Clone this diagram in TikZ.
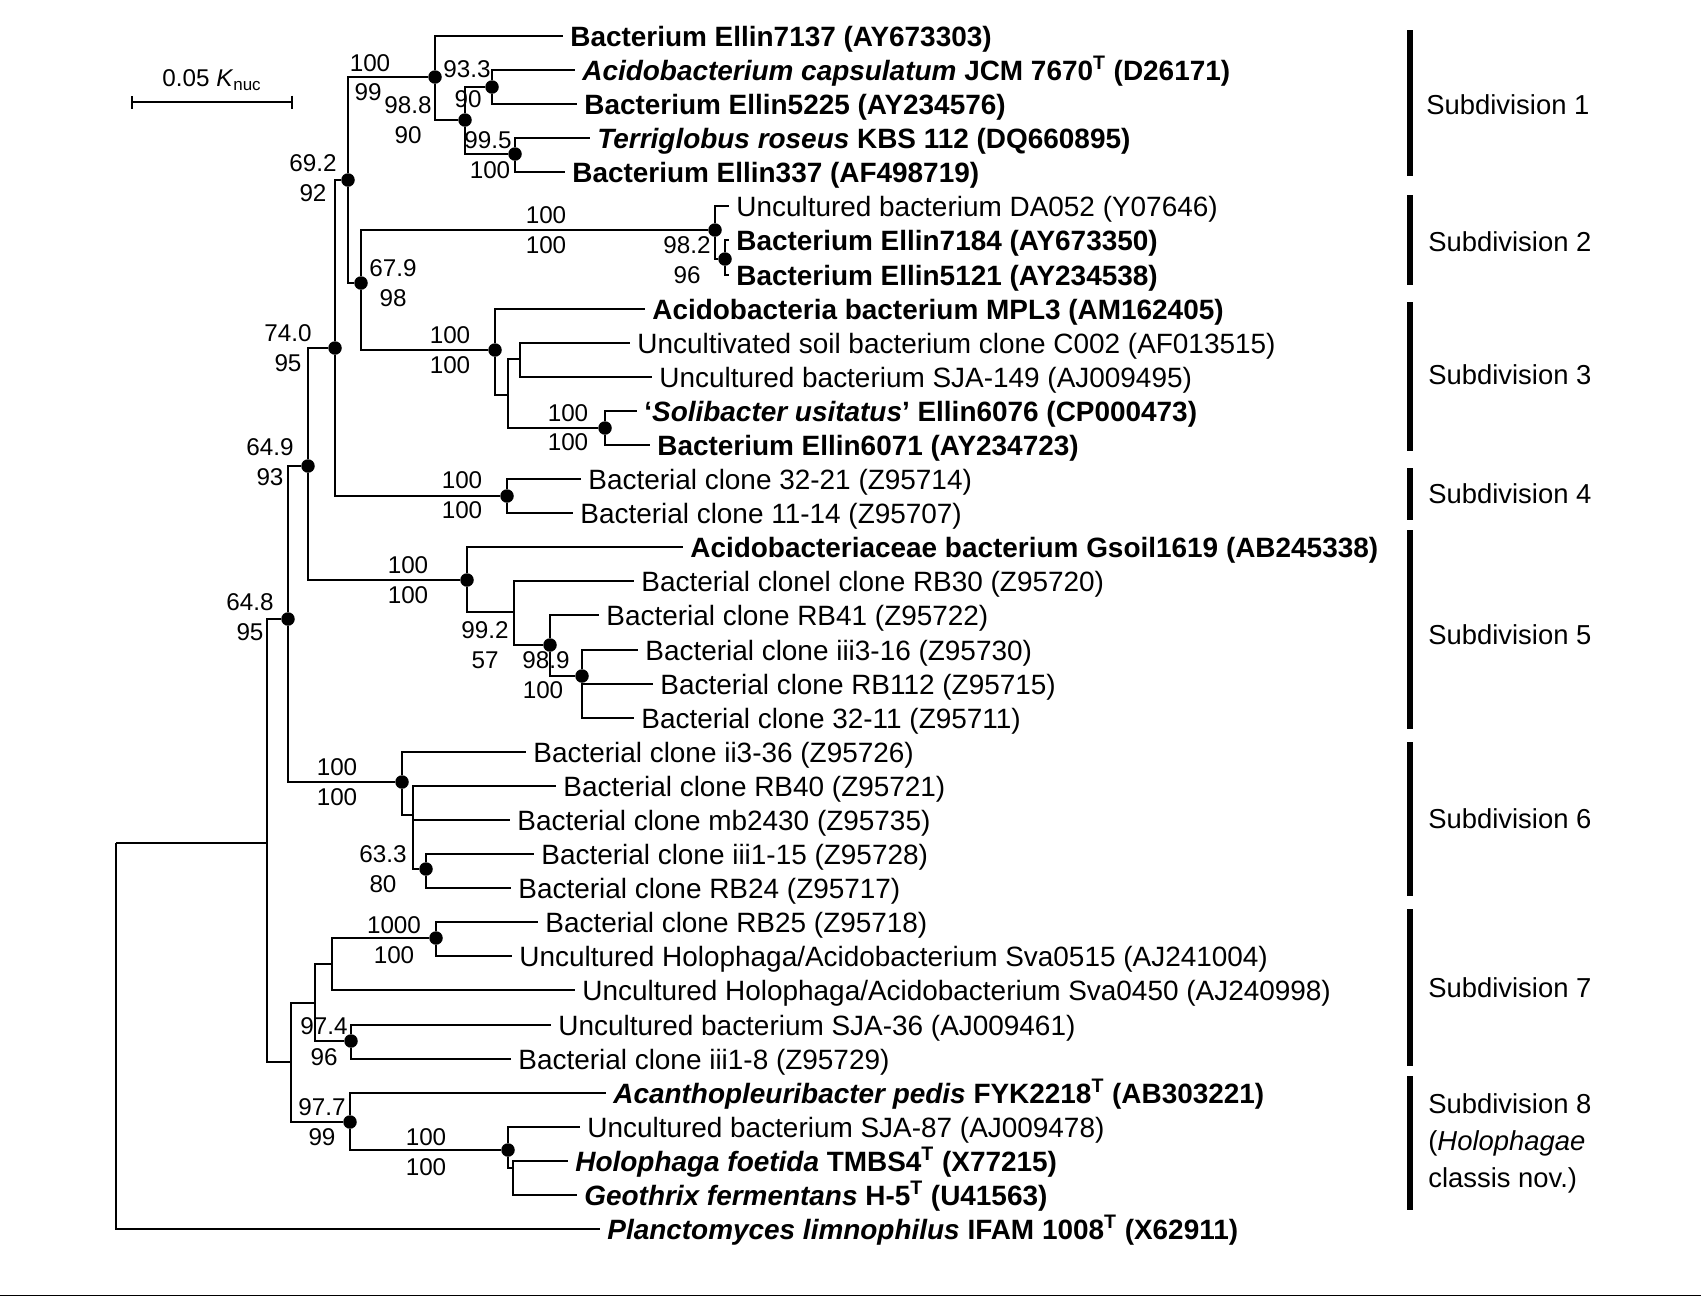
\documentclass[tikz,border=0pt]{standalone}
\usepackage{fontspec}
\setmainfont{Liberation Sans}
\usetikzlibrary{arrows.meta}

\begin{document}
\begin{tikzpicture}[
        x=0.02cm, y=-0.02cm,
        every node/.style={font=\fontsize{15.9}{18}\selectfont},
        branch/.style={line width=1.05pt},
        leaf/.style={anchor=west, inner xsep=4pt, inner ysep=0pt, text height=12.3pt, text depth=0pt},
        dot/.style={circle, fill=black, inner sep=0pt, minimum size=0.27cm},
        bs/.style={font=\fontsize{13.8}{15}\selectfont, inner sep=0pt},
        bar/.style={line width=3.3pt},
        sub/.style={anchor=west, inner sep=0pt, align=left, font=\fontsize{15.6}{18}\selectfont},
    ]
    \useasboundingbox (0,0) rectangle (1701,1296);

    % ── Scale bar ──
    \coordinate (sbl) at (131,102);
    \coordinate (sbr) at (293,102);
    \draw[branch, {Bar[width=0.26cm]}-{Bar[width=0.26cm]}] (sbl) -- (sbr);
    \node[bs] (sblab) at (212,80) {0.05 \textit{K}\textsubscript{nuc}};

    % ── Leaves ──
    \node[leaf] (l1) at (563,36) {\textbf{Bacterium Ellin7137 (AY673303)}};
    \node[leaf] (l2) at (575,70) {\textbf{\textit{Acidobacterium capsulatum} JCM 7670\textsuperscript{T} (D26171)}};
    \node[leaf] (l3) at (577,104) {\textbf{Bacterium Ellin5225 (AY234576)}};
    \node[leaf] (l4) at (590,138) {\textbf{\textit{Terriglobus roseus} KBS 112 (DQ660895)}};
    \node[leaf] (l5) at (565,172) {\textbf{Bacterium Ellin337 (AF498719)}};
    \node[leaf] (l6) at (729,206) {Uncultured bacterium DA052 (Y07646)};
    \node[leaf] (l7) at (729,240) {\textbf{Bacterium Ellin7184 (AY673350)}};
    \node[leaf] (l8) at (729,275) {\textbf{Bacterium Ellin5121 (AY234538)}};
    \node[leaf] (l9) at (645,309) {\textbf{Acidobacteria bacterium MPL3 (AM162405)}};
    \node[leaf] (l10) at (630,343) {Uncultivated soil bacterium clone C002 (AF013515)};
    \node[leaf] (l11) at (652,377) {Uncultured bacterium SJA-149 (AJ009495)};
    \node[leaf] (l12) at (637,411) {\textbf{‘\textit{Solibacter usitatus}’ Ellin6076 (CP000473)}};
    \node[leaf] (l13) at (650,445) {\textbf{Bacterium Ellin6071 (AY234723)}};
    \node[leaf] (l14) at (581,479) {Bacterial clone 32-21 (Z95714)};
    \node[leaf] (l15) at (573,513) {Bacterial clone 11-14 (Z95707)};
    \node[leaf] (l16) at (683,547) {\textbf{Acidobacteriaceae bacterium Gsoil1619 (AB245338)}};
    \node[leaf] (l17) at (634,581) {Bacterial clonel clone RB30 (Z95720)};
    \node[leaf] (l18) at (599,615) {Bacterial clone RB41 (Z95722)};
    \node[leaf] (l19) at (638,650) {Bacterial clone iii3-16 (Z95730)};
    \node[leaf] (l20) at (653,684) {Bacterial clone RB112 (Z95715)};
    \node[leaf] (l21) at (634,718) {Bacterial clone 32-11 (Z95711)};
    \node[leaf] (l22) at (526,752) {Bacterial clone ii3-36 (Z95726)};
    \node[leaf] (l23) at (556,786) {Bacterial clone RB40 (Z95721)};
    \node[leaf] (l24) at (510,820) {Bacterial clone mb2430 (Z95735)};
    \node[leaf] (l25) at (534,854) {Bacterial clone iii1-15 (Z95728)};
    \node[leaf] (l26) at (511,888) {Bacterial clone RB24 (Z95717)};
    \node[leaf] (l27) at (538,922) {Bacterial clone RB25 (Z95718)};
    \node[leaf] (l28) at (512,956) {Uncultured Holophaga/Acidobacterium Sva0515 (AJ241004)};
    \node[leaf] (l29) at (575,990) {Uncultured Holophaga/Acidobacterium Sva0450 (AJ240998)};
    \node[leaf] (l30) at (551,1025) {Uncultured bacterium SJA-36 (AJ009461)};
    \node[leaf] (l31) at (511,1059) {Bacterial clone iii1-8 (Z95729)};
    \node[leaf] (l32) at (606,1093) {\textbf{\textit{Acanthopleuribacter pedis} FYK2218\textsuperscript{T} (AB303221)}};
    \node[leaf] (l33) at (580,1127) {Uncultured bacterium SJA-87 (AJ009478)};
    \node[leaf] (l34) at (568,1161) {\textbf{\textit{Holophaga foetida} TMBS4\textsuperscript{T} (X77215)}};
    \node[leaf] (l35) at (577,1195) {\textbf{\textit{Geothrix fermentans} H-5\textsuperscript{T} (U41563)}};
    \node[leaf] (l36) at (600,1229) {\textbf{\textit{Planctomyces limnophilus} IFAM 1008\textsuperscript{T} (X62911)}};

    % ── Internal nodes ──
    \coordinate (root) at (116,843);
    \coordinate (n1) at (267,843);
    \node[dot] (n648) at (288,619) {};
    \node[dot] (n649) at (308,466) {};
    \node[dot] (n740) at (335,348) {};
    \node[dot] (n692) at (348,180) {};
    \node[dot] (s1) at (435,77) {};
    \node[dot] (n988) at (465,120) {};
    \node[dot] (n933) at (492,87) {};
    \node[dot] (n995) at (515,154) {};
    \node[dot] (n679) at (361,283) {};
    \node[dot] (s2) at (715,230) {};
    \node[dot] (n982) at (725,259) {};
    \node[dot] (s3) at (495,350) {};
    \coordinate (n3a) at (508,395);
    \coordinate (n3b) at (520,359);
    \node[dot] (n3c) at (605,428) {};
    \node[dot] (s4) at (507,496) {};
    \node[dot] (s5) at (467,580) {};
    \coordinate (n992) at (514,612);
    \node[dot] (n989) at (550,645) {};
    \node[dot] (n5d) at (582,676) {};
    \node[dot] (s6) at (402,782) {};
    \coordinate (n6a) at (413,815);
    \node[dot] (n633) at (426,869) {};
    \coordinate (n78) at (291,1062);
    \coordinate (n7) at (315,1003);
    \coordinate (n7a) at (332,964);
    \node[dot] (s7a) at (436,938) {};
    \node[dot] (n974) at (351,1041) {};
    \node[dot] (n977) at (350,1122) {};
    \node[dot] (s8) at (508,1150) {};
    \coordinate (n8a) at (513,1168);

    % ── Branches ──
    \draw[branch] (root) |- (n1) (root) |- (l36);
    \draw[branch] (n1) |- (n648) (n1) |- (n78);
    \draw[branch] (n648) |- (n649) (n648) |- (s6);
    \draw[branch] (n649) |- (n740) (n649) |- (s5);
    \draw[branch] (n740) |- (n692) (n740) |- (s4);
    \draw[branch] (n692) |- (s1) (n692) |- (n679);
    \draw[branch] (s1) |- (l1) (s1) |- (n988);
    \draw[branch] (n988) |- (n933) (n988) |- (n995);
    \draw[branch] (n933) |- (l2) (n933) |- (l3);
    \draw[branch] (n995) |- (l4) (n995) |- (l5);
    \draw[branch] (n679) |- (s2) (n679) |- (s3);
    \draw[branch] (s2) |- (l6) (s2) |- (n982);
    \draw[branch] (n982) |- (l7) (n982) |- (l8);
    \draw[branch] (s3) |- (l9) (s3) |- (n3a);
    \draw[branch] (n3a) |- (n3b) (n3a) |- (n3c);
    \draw[branch] (n3b) |- (l10) (n3b) |- (l11);
    \draw[branch] (n3c) |- (l12) (n3c) |- (l13);
    \draw[branch] (s4) |- (l14) (s4) |- (l15);
    \draw[branch] (s5) |- (l16) (s5) |- (n992);
    \draw[branch] (n992) |- (l17) (n992) |- (n989);
    \draw[branch] (n989) |- (l18) (n989) |- (n5d);
    \draw[branch] (n5d) |- (l19) (n5d) |- (l20) (n5d) |- (l21);
    \draw[branch] (s6) |- (l22) (s6) |- (n6a);
    \draw[branch] (n6a) |- (l23) (n6a) |- (l24) (n6a) |- (n633);
    \draw[branch] (n633) |- (l25) (n633) |- (l26);
    \draw[branch] (n78) |- (n7) (n78) |- (n977);
    \draw[branch] (n7) |- (n7a) (n7) |- (n974);
    \draw[branch] (n7a) |- (s7a) (n7a) |- (l29);
    \draw[branch] (s7a) |- (l27) (s7a) |- (l28);
    \draw[branch] (n974) |- (l30) (n974) |- (l31);
    \draw[branch] (n977) |- (l32) (n977) |- (s8);
    \draw[branch] (s8) |- (l33) (s8) |- (n8a);
    \draw[branch] (n8a) |- (l34) (n8a) |- (l35);

    % ── Support values ──
    \node[bs] (b1a) at (370,63) {100};   \node[bs] (b1b) at (368,92) {99};
    \node[bs] (b2a) at (408,105) {98.8}; \node[bs] (b2b) at (408,135) {90};
    \node[bs] (b3a) at (467,69) {93.3};  \node[bs] (b3b) at (468,99) {90};
    \node[bs] (b4a) at (488,140) {99.5}; \node[bs] (b4b) at (490,170) {100};
    \node[bs] (b5a) at (313,163) {69.2}; \node[bs] (b5b) at (313,193) {92};
    \node[bs] (b6a) at (393,268) {67.9}; \node[bs] (b6b) at (393,298) {98};
    \node[bs] (b7a) at (546,215) {100};  \node[bs] (b7b) at (546,245) {100};
    \node[bs] (b8a) at (687,245) {98.2}; \node[bs] (b8b) at (687,275) {96};
    \node[bs] (b9a) at (288,333) {74.0}; \node[bs] (b9b) at (288,363) {95};
    \node[bs] (b10a) at (450,335) {100}; \node[bs] (b10b) at (450,365) {100};
    \node[bs] (b11a) at (568,413) {100}; \node[bs] (b11b) at (568,442) {100};
    \node[bs] (b12a) at (270,447) {64.9}; \node[bs] (b12b) at (270,477) {93};
    \node[bs] (b13a) at (462,480) {100}; \node[bs] (b13b) at (462,510) {100};
    \node[bs] (b14a) at (408,565) {100}; \node[bs] (b14b) at (408,595) {100};
    \node[bs] (b15a) at (485,630) {99.2}; \node[bs] (b15b) at (485,660) {57};
    \node[bs] (b16a) at (546,660) {98.9}; \node[bs] (b16b) at (543,690) {100};
    \node[bs] (b17a) at (250,602) {64.8}; \node[bs] (b17b) at (250,632) {95};
    \node[bs] (b18a) at (337,767) {100}; \node[bs] (b18b) at (337,797) {100};
    \node[bs] (b19a) at (383,854) {63.3}; \node[bs] (b19b) at (383,884) {80};
    \node[bs] (b20a) at (394,925) {1000}; \node[bs] (b20b) at (394,955) {100};
    \node[bs] (b21a) at (324,1026) {97.4}; \node[bs] (b21b) at (324,1057) {96};
    \node[bs] (b22a) at (322,1107) {97.7}; \node[bs] (b22b) at (322,1137) {99};
    \node[bs] (b23a) at (426,1137) {100}; \node[bs] (b23b) at (426,1167) {100};

    % ── Subdivision bars ──
    \draw[bar] (1410,30) -- (1410,176);
    \draw[bar] (1410,195) -- (1410,285);
    \draw[bar] (1410,302) -- (1410,451);
    \draw[bar] (1410,468) -- (1410,520);
    \draw[bar] (1410,530) -- (1410,729);
    \draw[bar] (1410,742) -- (1410,896);
    \draw[bar] (1410,909) -- (1410,1066);
    \draw[bar] (1410,1076) -- (1410,1210);
    \node[sub] (sd1) at (1426,105) {Subdivision 1};
    \node[sub] (sd2) at (1428,242) {Subdivision 2};
    \node[sub] (sd3) at (1428,375) {Subdivision 3};
    \node[sub] (sd4) at (1428,494) {Subdivision 4};
    \node[sub] (sd5) at (1428,635) {Subdivision 5};
    \node[sub] (sd6) at (1428,819) {Subdivision 6};
    \node[sub] (sd7) at (1428,988) {Subdivision 7};
    \node[sub, font=\fontsize{15.6}{21}\selectfont] (sd8) at (1428,1143) {Subdivision 8\\(\textit{Holophagae}\\classis nov.)};

    % ── Bottom rule ──
    \draw[line width=0.5pt] (0,1295) -- (1701,1295);

\end{tikzpicture}
\end{document}
